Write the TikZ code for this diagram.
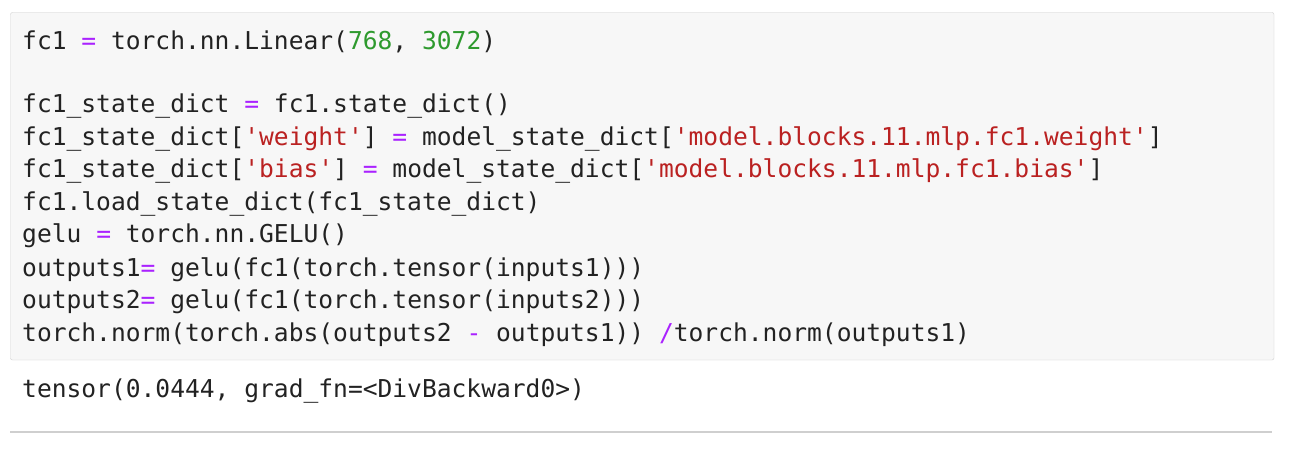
\documentclass[tikz,border=0pt]{standalone}
\usepackage{fontspec}
\setmonofont{DejaVu Sans Mono}
\definecolor{op}{HTML}{AA22FF}
\definecolor{num}{HTML}{2E9A2E}
\definecolor{str}{HTML}{BA2121}
\definecolor{cellbg}{HTML}{F7F7F7}
\definecolor{cellbd}{HTML}{CFCFCF}
\definecolor{txt}{HTML}{222222}
\newcommand{\myop}[1]{\textcolor{op}{#1}}
\newcommand{\mynum}[1]{\textcolor{num}{#1}}
\newcommand{\mystr}[1]{\textcolor{str}{#1}}
\begin{document}
\begin{tikzpicture}[x=1pt,y=1pt,
  codeline/.style={anchor=base west,inner sep=0pt,font=\ttfamily\fontsize{24.6}{30}\selectfont,text=txt}]
\useasboundingbox (0,0) rectangle (1309,-457);
\fill[white] (0,0) rectangle (1309,-457);
\draw[cellbd,fill=cellbg,rounded corners=2pt] (10.5,-12.5) rectangle (1274,-360);
\node[codeline] (l1) at (22,-50) {fc1 \myop{=} torch.nn.Linear(\mynum{768}, \mynum{3072})};
\node[codeline] (l2) at (22,-113) {fc1\_state\_dict \myop{=} fc1.state\_dict()};
\node[codeline] (l3) at (22,-146) {fc1\_state\_dict[\mystr{'weight'}] \myop{=} model\_state\_dict[\mystr{'model.blocks.11.mlp.fc1.weight'}]};
\node[codeline] (l4) at (22,-178) {fc1\_state\_dict[\mystr{'bias'}] \myop{=} model\_state\_dict[\mystr{'model.blocks.11.mlp.fc1.bias'}]};
\node[codeline] (l5) at (22,-211) {fc1.load\_state\_dict(fc1\_state\_dict)};
\node[codeline] (l6) at (22,-243) {gelu \myop{=} torch.nn.GELU()};
\node[codeline] (l7) at (22,-276) {outputs1\myop{=} gelu(fc1(torch.tensor(inputs1)))};
\node[codeline] (l8) at (22,-308) {outputs2\myop{=} gelu(fc1(torch.tensor(inputs2)))};
\node[codeline] (l9) at (22,-341) {torch.norm(torch.abs(outputs2 \myop{-} outputs1)) \myop{/}torch.norm(outputs1)};
\node[codeline] (out) at (22,-397) {tensor(0.0444, grad\_fn=<DivBackward0>)};
\draw[cellbd,line width=1.2pt] (10,-432) -- (1272,-432);
\end{tikzpicture}
\end{document}
